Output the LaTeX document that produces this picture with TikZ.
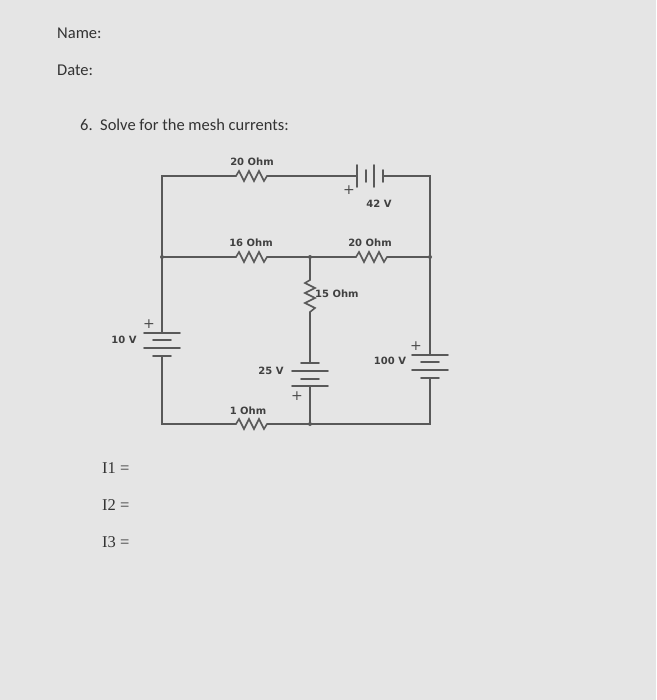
\documentclass[tikz,border=0pt]{standalone}
\usepackage{fontspec}
\setmainfont{Carlito}
\newfontfamily\cir{DejaVu Sans}
\newfontfamily\ser{Liberation Serif}
\begin{document}
\begin{tikzpicture}[x=1pt,y=-1pt,
  w/.style={line width=1.6pt,draw=black!65,line cap=round},
  lb/.style={font=\cir\bfseries\fontsize{10}{11}\selectfont,text=black!75,inner sep=0pt},
  tx/.style={font=\fontsize{16.5}{18}\selectfont,text=black!80,anchor=west,inner sep=0pt},
  st/.style={tx,font=\ser\fontsize{16.5}{18}\selectfont},
  pl/.style={font=\cir\fontsize{14}{14}\selectfont,text=black!70,inner sep=0pt},
  dot/.style={circle,fill=black!65,inner sep=0pt,minimum size=4pt}]
\fill[black!10] (0,0) rectangle (656,700);
\node[tx] (name) at (57,33) {Name:};
\node[tx] (date) at (57,70) {Date:};
\node[tx] (q) at (80,125) {6.\ \ Solve for the mesh currents:};
\node[st] (i1) at (102,468) {I1 =};
\node[st] (i2) at (102,505) {I2 =};
\node[st] (i3) at (102,542) {I3 =};
% wires
\draw[w] (233,176) -- (162,176) -- (162,333);
\draw[w] (162,356) -- (162,424) -- (233,424);
\draw[w] (267,424) -- (430,424) -- (430,378);
\draw[w] (430,355) -- (430,176) -- (383,176);
\draw[w] (270,176) -- (357,176);
\draw[w] (162,257) -- (233,257);
\draw[w] (270,257) -- (353,257);
\draw[w] (387,257) -- (430,257);
\draw[w] (310,257) -- (310,278);
\draw[w] (310,315) -- (310,363);
\draw[w] (310,386) -- (310,424);
% resistors
\draw[w,line cap=butt] (233,176) -- (236,176) -- (239,171) -- (244,181) -- (249,171) -- (254,181) -- (259,171) -- (264,181) -- (267,176) -- (270,176);
\draw[w,line cap=butt] (233,257) -- (236,257) -- (239,252) -- (244,262) -- (249,252) -- (254,262) -- (259,252) -- (264,262) -- (267,257) -- (270,257);
\draw[w,line cap=butt] (353,257) -- (356,257) -- (359,252) -- (364,262) -- (369,252) -- (374,262) -- (379,252) -- (384,262) -- (387,257);
\draw[w,line cap=butt] (233,424) -- (236,424) -- (239,419) -- (244,429) -- (249,419) -- (254,429) -- (259,419) -- (264,429) -- (267,424);
\draw[w,line cap=butt] (310,278) -- (310,280) -- (305,283) -- (315,288) -- (305,293) -- (315,298) -- (305,303) -- (315,308) -- (310,312) -- (310,315);
% 42 V battery
\draw[w] (357,165) -- (357,187);
\draw[w] (366,170) -- (366,182);
\draw[w] (374,165) -- (374,187);
\draw[w] (383,170) -- (383,182);
% 10 V
\draw[w] (144,333) -- (180,333);
\draw[w] (153,340) -- (171,340);
\draw[w] (144,348) -- (180,348);
\draw[w] (153,356) -- (171,356);
% 100 V
\draw[w] (412,355) -- (448,355);
\draw[w] (421,362) -- (439,362);
\draw[w] (412,370) -- (448,370);
\draw[w] (421,378) -- (439,378);
% 25 V
\draw[w] (301,363) -- (319,363);
\draw[w] (292,371) -- (328,371);
\draw[w] (301,379) -- (319,379);
\draw[w] (292,386) -- (328,386);
\node[dot] (n1) at (162,257) {};
\node[dot] (n2) at (310,257) {};
\node[dot] (n3) at (430,257) {};
\node[dot] (n4) at (310,424) {};
% labels
\node[lb] (l1) at (252,162) {20 Ohm};
\node[lb] (l2) at (251,243) {16 Ohm};
\node[lb] (l3) at (370,243) {20 Ohm};
\node[lb] (l4) at (248,411) {1 Ohm};
\node[lb,anchor=west] (l5) at (315,294) {15 Ohm};
\node[lb] (l6) at (379,204) {42 V};
\node[lb] (l7) at (124,340) {10 V};
\node[lb] (l8) at (390,361) {100 V};
\node[lb] (l9) at (271,371) {25 V};
\node[pl] (p1) at (349,190) {+};
\node[pl] (p2) at (149,324) {+};
\node[pl] (p3) at (416,346) {+};
\node[pl] (p4) at (297,396) {+};
\end{tikzpicture}
\end{document}
